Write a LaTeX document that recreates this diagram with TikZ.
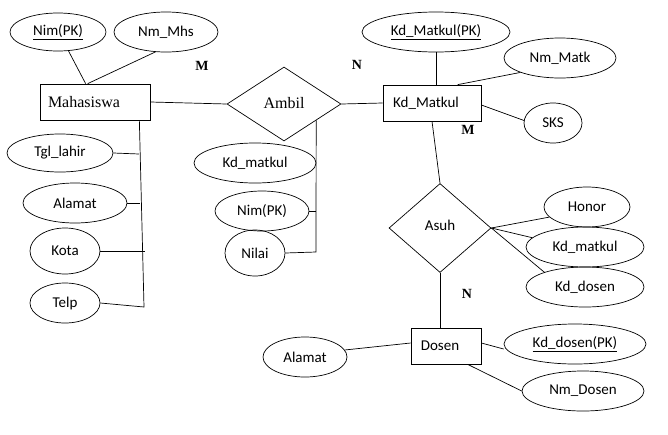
\documentclass[tikz,border=0pt]{standalone}
\usepackage{fontspec}
\setmainfont{Liberation Serif}
\newfontfamily\calfnt{Carlito}
\usetikzlibrary{shapes.geometric}
\begin{document}
\begin{tikzpicture}[x=1pt,y=-1pt,
  attr/.style={draw,ellipse,inner sep=0pt,font=\calfnt\fontsize{15}{17}\selectfont},
  ent/.style={draw,rectangle,inner sep=0pt},
  rel/.style={draw,diamond,inner sep=0pt,font=\fontsize{16}{18}\selectfont},
  card/.style={font=\bfseries\fontsize{14}{16}\selectfont},
  line width=0.7pt]
\useasboundingbox (0,0) rectangle (668,434);
% Mahasiswa
\node[ent,minimum width=110,minimum height=36,font=\fontsize{16}{18}\selectfont] (mhs) at (95,102) {\hspace*{-22pt}Mahasiswa};
\node[attr,minimum width=96,minimum height=38] (nim) at (58,32) {\underline{Nim(PK)}};
\node[attr,minimum width=104,minimum height=40] (nmm) at (166,32) {Nm\_Mhs};
\draw (nim.-61) -- ([xshift=46]mhs.north west);
\draw (nmm.-118) -- ([xshift=48]mhs.north west);
\node[attr,minimum width=106,minimum height=38] (tgl) at (60,153) {Tgl\_lahir};
\node[attr,minimum width=104,minimum height=40] (ala) at (75,203) {Alamat};
\node[attr,minimum width=70,minimum height=46] (kota) at (65,251) {Kota};
\node[attr,minimum width=70,minimum height=40] (telp) at (65,303) {Telp};
\coordinate (vb) at (144,307);
\draw ([xshift=-11]mhs.south east) -- (vb) -- (telp.0);
\draw (tgl.0) -- (139,154);
\draw (ala.0) -- (140,203);
\draw (kota.0) -- (145,251);
% Ambil
\node[rel,minimum width=114,minimum height=74,aspect=1.54] (amb) at (284,104) {\raisebox{2pt}{Ambil}};
\draw (mhs.east) -- (amb.west);
\node[card] (m1) at (202,66) {M};
\node[card] (n1) at (357,65) {N};
\node[attr,minimum width=122,minimum height=40] (kdm1) at (255,163) {Kd\_matkul};
\node[attr,minimum width=94,minimum height=40] (nim2) at (262,211) {Nim(PK)};
\node[attr,minimum width=60,minimum height=46] (nil) at (255,253) {Nilai};
\draw (amb.-27) -- (316,252) -- (nil.0);
\draw (nim2.0) -- (316,211);
% Kd_Matkul
\node[ent,minimum width=98,minimum height=36,font=\calfnt\fontsize{15}{17}\selectfont] (mk) at (432,103) {\hspace*{-12pt}Kd\_Matkul};
\draw (amb.east) -- (mk.west);
\node[attr,minimum width=148,minimum height=40] (kmpk) at (436,32) {\underline{Kd\_Matkul(PK)}};
\node[attr,minimum width=112,minimum height=40] (nmk) at (560,58) {Nm\_Matk};
\node[attr,minimum width=58,minimum height=40] (sks) at (553,123) {SKS};
\draw (kmpk.south) -- (kmpk.south |- mk.north);
\draw ([xshift=75]mk.north west) -- (nmk.200);
\draw ([yshift=-2]mk.east) -- (sks.175);
\node[card] (m2) at (468,130) {M};
% Asuh
\node[rel,minimum width=102,minimum height=89,aspect=1.15,font=\calfnt\fontsize{15}{17}\selectfont] (asu) at (440,228) {\raisebox{6pt}{Asuh}};
\draw (mk.south) -- (asu.north);
\node[attr,minimum width=86,minimum height=40] (hon) at (587,207) {Honor};
\node[attr,minimum width=118,minimum height=40] (kdm2) at (585,247) {Kd\_matkul};
\node[attr,minimum width=118,minimum height=40] (kdd) at (585,287) {Kd\_dosen};
\draw (asu.east) -- (hon.195);
\draw (asu.east) -- (kdm2.170);
\draw (asu.east) -- (kdd.160);
\node[card] (n2) at (467,294) {N};
% Dosen
\node[ent,minimum width=70,minimum height=36,font=\calfnt\fontsize{15}{17}\selectfont] (dos) at (446,346) {\hspace*{-12pt}Dosen};
\draw (asu.south) -- (asu.south |- dos.north);
\node[attr,minimum width=142,minimum height=40] (kdpk) at (575,344) {\underline{Kd\_dosen(PK)}};
\node[attr,minimum width=122,minimum height=40] (nmd) at (583,391) {Nm\_Dosen};
\node[attr,minimum width=84,minimum height=40] (ala2) at (305,357) {Alamat};
\draw ([yshift=3]dos.east) -- (kdpk.west |- 0,349);
\draw ([xshift=57]dos.south west) -- (nmd.180);
\draw (ala2.10) -- ([yshift=3]dos.west);
\end{tikzpicture}
\end{document}
